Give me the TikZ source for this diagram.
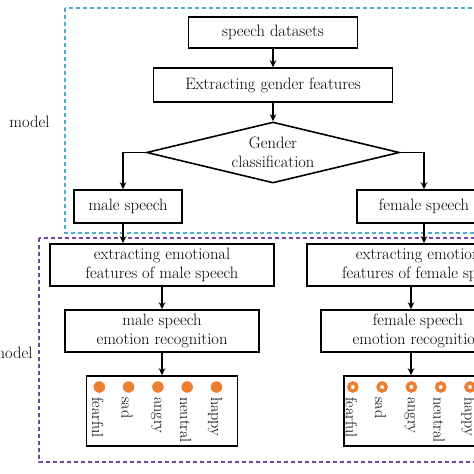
\documentclass[tikz,border=0pt]{standalone}
\usepackage{fontspec}
\usepackage{xcolor}
\usepackage{tikz}
\usetikzlibrary{shapes.geometric,arrows.meta,positioning}
\definecolor{framecyan}{RGB}{75,172,205}
\definecolor{framepurple}{RGB}{112,70,160}
\definecolor{dotorange}{RGB}{237,125,49}

\begin{document}
\begin{tikzpicture}[
  x=1pt, y=-1pt,
  box/.style={rectangle, draw, line width=1.6pt, align=center, inner sep=0pt,
    font=\fontsize{16.5}{19.5}\selectfont},
  decision/.style={diamond, draw, line width=1.6pt, align=center, inner sep=0pt,
    shape aspect=4.15, minimum width=253pt, minimum height=61pt,
    font=\fontsize{16.5}{19.5}\selectfont},
  arr/.style={-{Stealth[length=7pt,width=6.5pt]}, line width=1.4pt},
  frame/.style={dash pattern=on 4pt off 3pt, line width=1.1pt},
  emo/.style={rotate=-90, anchor=west, inner sep=0pt, font=\fontsize{16}{18}\selectfont},
  fulldot/.style={circle, fill=dotorange, minimum size=11.5pt, inner sep=0pt},
  ringdot/.style={circle, draw=dotorange, line width=3.5pt, fill=white, minimum size=8pt, inner sep=0pt}
]
\path[use as bounding box, clip] (0,0) rectangle (474,474);

% dashed model frames
\draw[frame, framecyan] (65,8) rectangle (530,233);
\draw[frame, framepurple] (39,238) rectangle (530,462);
\node[anchor=east, font=\fontsize{16.5}{19.5}\selectfont] (gmodel) at (53,122) {model};
\node[anchor=east, font=\fontsize{16.5}{19.5}\selectfont] (emodel) at (36,353) {model};

% gender part
\node[box, minimum width=169pt, minimum height=31pt] (data) at (273,32.5) {speech datasets};
\node[box, minimum width=239pt, minimum height=34pt] (gfeat) at (273,85) {Extracting gender features};
\node[decision] (gender) at (273,152.5) {Gender\\classification};
\node[box, minimum width=108pt, minimum height=33pt] (male) at (128,206.5) {male speech};
\node[box, minimum width=134pt, minimum height=33pt] (female) at (424,206.5) {female speech};
\coordinate (mcol) at (123,0);
\coordinate (fcol) at (411,0);

% emotion part
\node[box, minimum width=224pt, minimum height=42pt] (mextract) at (162,265) {extracting emotional\\features of male speech};
\node[box, minimum width=234pt, minimum height=42pt] (fextract) at (424,265) {extracting emotional\\features of female speech};
\node[box, minimum width=194pt, minimum height=42pt] (mrecog) at (162,331) {male speech\\emotion recognition};
\node[box, minimum width=194pt, minimum height=42pt] (frecog) at (418,331) {female speech\\emotion recognition};
\node[box, minimum width=151pt, minimum height=70pt] (memo) at (162,411) {};
\node[box, minimum width=151pt, minimum height=70pt] (femo) at (419.5,411) {};

\foreach \lbl [count=\i] in {fearful,sad,angry,neutral,happy} {
  \node[fulldot] (mdot\i) at ({70+29.3*\i},387) {};
  \node[emo] (mlbl\i) at ({68.5+29.3*\i},397) {\lbl};
  \node[ringdot] (fdot\i) at ({323.5+29.3*\i},387) {};
  \node[emo] (flbl\i) at ({322+29.3*\i},397) {\lbl};
}

\draw[arr] (data) -- (gfeat);
\draw[arr] (gfeat) -- (gender);
\draw[arr] (gender.west) -| (male.north -| mcol);
\draw[arr] (gender.east) -| (female.north);
\draw[arr] (male.south -| mcol) -- (mextract.north -| mcol);
\draw[arr] (female.south) -- (fextract.north -| female.south);
\draw[arr] (mextract) -- (mrecog);
\draw[arr] (mrecog) -- (memo);
\draw[arr] (fextract.south -| fcol) -- (frecog.north -| fcol);
\draw[arr] (frecog.south -| fcol) -- (femo.north -| fcol);
\end{tikzpicture}
\end{document}
